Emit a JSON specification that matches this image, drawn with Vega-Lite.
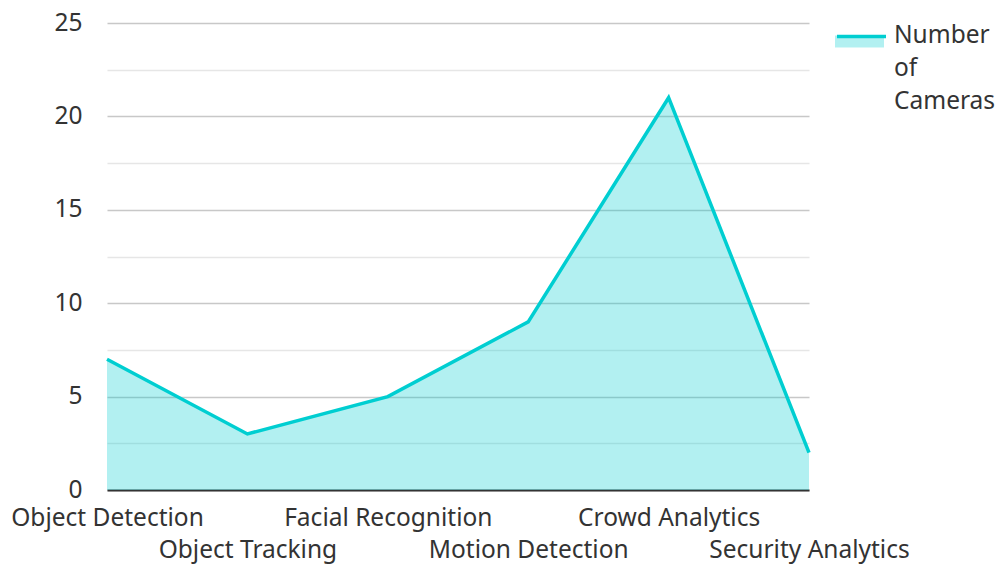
{
  "$schema": "https://vega.github.io/schema/vega-lite/v6.json",
  "width": 702,
  "height": 467,
  "autosize": "none",
  "padding": {"left": 107, "top": 23, "right": 190, "bottom": 74},
  "background": "white",
  "config": {"font": "Noto Sans", "view": {"stroke": null}, "style": {"guide-label": {"lineHeight": 33}}},
  "data": {
    "values": [
      {"feature": "Object Detection", "cameras": 7},
      {"feature": "Object Tracking", "cameras": 3},
      {"feature": "Facial Recognition", "cameras": 5},
      {"feature": "Motion Detection", "cameras": 9},
      {"feature": "Crowd Analytics", "cameras": 21},
      {"feature": "Security Analytics", "cameras": 2}
    ]
  },
  "encoding": {
    "x": {
      "field": "feature",
      "type": "nominal",
      "sort": null,
      "scale": {"type": "point", "padding": 0},
      "axis": {
        "title": null,
        "labelAngle": 0,
        "ticks": false,
        "grid": false,
        "domainColor": "#333333",
        "domainWidth": 2,
        "labelFontSize": 24.5,
        "labelColor": "#333333",
        "labelPadding": 16,
        "labelLineHeight": 32,
        "labelOverlap": false,
        "labelLimit": 400,
        "labelExpr": "indexof(['Object Tracking','Motion Detection','Security Analytics'], datum.value) >= 0 ? ['', datum.label] : datum.label"
      }
    },
    "y": {
      "field": "cameras",
      "type": "quantitative",
      "scale": {"domain": [0, 25], "nice": false},
      "axis": {
        "title": null,
        "values": [0, 2.5, 5, 7.5, 10, 12.5, 15, 17.5, 20, 22.5, 25],
        "labelExpr": "datum.value % 5 === 0 ? datum.label : ''",
        "ticks": false,
        "domain": false,
        "labelFontSize": 24.5,
        "labelColor": "#333333",
        "labelPadding": 25,
        "gridWidth": 1.5,
        "gridColor": {"condition": {"test": "datum.value % 5 === 0", "value": "#c8c8c8"}, "value": "#e6e6e6"}
      }
    }
  },
  "layer": [
    {
      "mark": {"type": "area", "fillOpacity": 0.3},
      "encoding": {
        "fill": {
          "datum": "Number of Cameras",
          "scale": {"range": ["#00CED1"]},
          "legend": {
            "orient": "none",
            "legendX": 728,
            "legendY": -24,
            "title": null,
            "symbolType": "M-1,0.49H1V0.98H-1Z",
            "symbolSize": 2401,
            "symbolOpacity": 0.3,
            "symbolStrokeWidth": 0,
            "labelFontSize": 24.5,
            "labelColor": "#333333",
            "labelOffset": 10,
            "labelBaseline": "top",
            "labelExpr": "['Number','of','Cameras']"
          }
        }
      }
    },
    {
      "mark": {"type": "line", "strokeWidth": 3.5},
      "encoding": {
        "stroke": {
          "datum": "Number of Cameras line",
          "scale": {"range": ["#00CED1"]},
          "legend": {
            "orient": "none",
            "legendX": 728,
            "legendY": -13,
            "title": null,
            "symbolType": "stroke",
            "symbolSize": 2401,
            "symbolStrokeWidth": 3.5,
            "labelFontSize": 24.5,
            "labelColor": "#333333",
            "labelOffset": 10,
            "labelBaseline": "top",
            "labelExpr": "''"
          }
        }
      }
    }
  ]
}
